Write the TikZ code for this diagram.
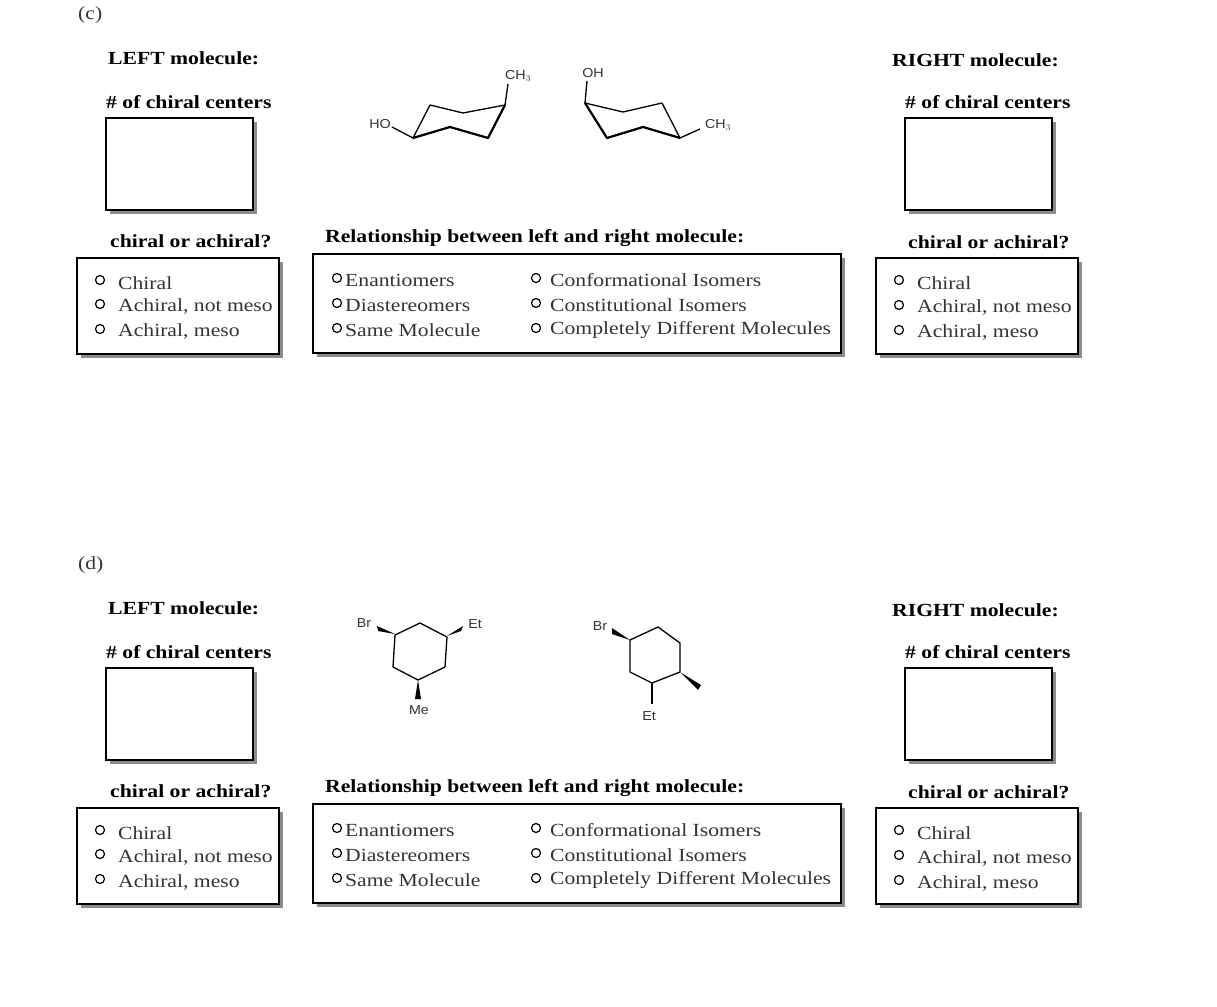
\documentclass[tikz,border=0pt]{standalone}
\usepackage{fontspec}
\setmainfont[FakeStretch=1.17]{Liberation Serif}
\setsansfont[FakeStretch=1.1]{Liberation Sans}
\begin{document}
\begin{tikzpicture}[x=1pt,y=-1pt,
  hd/.style={font=\fontsize{18.5}{20}\selectfont\bfseries,anchor=west,inner sep=0},
  opt/.style={font=\fontsize{18.5}{20}\selectfont,anchor=west,inner sep=0,text=black!80},
  rad/.style={draw,line width=1.2pt,circle,minimum size=9pt,inner sep=0},
  sbox/.style={draw,line width=1.3pt,fill=white},
  bond/.style={line width=1.3pt,line join=round},
  atom/.style={font=\sffamily\fontsize{13}{14}\selectfont,inner sep=0,text=black!80}]
\useasboundingbox (0,0) rectangle (1217,1006);
\newcommand{\shbox}[4]{%
  \fill[black!45] (#1+4,#2+4) rectangle (#3+4,#4+4);
  \draw[sbox] (#1,#2) rectangle (#3,#4);}
\newcommand{\panel}[2]{%
\begin{scope}[yshift=-#1]
\node[opt] (lab) at (78,15) {#2};
\node[hd] (lm) at (108,58) {LEFT molecule:};
\node[hd] (lc) at (106,102) {\# of chiral centers};
\shbox{106}{118}{253}{210}
\node[hd] (lq) at (110,241) {chiral or achiral?};
\shbox{77}{258}{279}{354}
\foreach \t/\y in {Chiral/283,{Achiral, not meso}/307,{Achiral, meso}/332}{
  \node[rad] at (100,\y-3) {}; \node[opt] at (118,\y) {\t};}
\node[hd] (rel) at (325,238) {Relationship between left and right molecule:};
\shbox{313}{254}{841}{353}
\foreach \t/\y in {Enantiomers/280,Diastereomers/305,{Same Molecule}/330}{
  \node[rad] at (337,\y-2) {}; \node[opt] at (345,\y) {\t};}
\foreach \t/\y in {{Conformational Isomers}/280,{Constitutional Isomers}/305,{Completely Different Molecules}/330}{
  \node[rad] at (536,\y-2) {}; \node[opt] at (550,\y) {\t};}
\node[hd] (rm) at (892,60) {RIGHT molecule:};
\node[hd] (rc) at (905,102) {\# of chiral centers};
\shbox{905}{118}{1052}{210}
\node[hd] (rq) at (908,242) {chiral or achiral?};
\shbox{876}{258}{1078}{354}
\foreach \t/\y in {Chiral/283,{Achiral, not meso}/308,{Achiral, meso}/333}{
  \node[rad] at (899,\y-3) {}; \node[opt] at (917,\y) {\t};}
\end{scope}}
\panel{0}{(c)}
\panel{550}{(d)}
% chairs (c)
\draw[bond] (413,138)--(430,105)--(463,113)--(505,105)--(488,138)--(450,127)--cycle;
\draw[line width=2.2pt,line join=round] (413,138)--(450,127)--(488,138)--(505,105);
\node[atom] (ch3a) at (518,76) {CH$_3$};
\draw[bond] (505,105)--(508,84);
\node[atom] (ho) at (380,124) {HO};
\draw[bond] (392,127)--(413,138);
\draw[bond] (585,103)--(607,138)--(643,127)--(680,138)--(662,103)--(623,112)--cycle;
\draw[line width=2.2pt,line join=round] (585,103)--(607,138)--(643,127)--(680,138);
\node[atom] (oh) at (593,73) {OH};
\draw[bond] (585,103)--(587,81);
\node[atom] (ch3b) at (718,125) {CH$_3$};
\draw[bond] (680,138)--(700,129);
% (d) left
\draw[bond] (395,635)--(420,623)--(447,637)--(445,667)--(418,680)--(393,667)--cycle;
\fill (395,634)--(377,626)--(378,631)--cycle;
\node[atom] at (364,623) {Br};
\fill (447,636)--(463,626)--(461,631)--cycle;
\node[atom] at (475,624) {Et};
\fill (418,680)--(415,699)--(421,699)--cycle;
\node[atom] at (419,710) {Me};
% (d) right
\draw[bond] (630,640)--(658,627)--(680,643)--(680,672)--(652,683)--(630,672)--cycle;
\fill (630,640)--(612,628)--(612,634)--cycle;
\node[atom] at (600,626) {Br};
\fill (680,672)--(701,685)--(698,690)--cycle;
\draw[bond] (652,683)--(652,704);
\node[atom] at (649,716) {Et};
\end{tikzpicture}
\end{document}
